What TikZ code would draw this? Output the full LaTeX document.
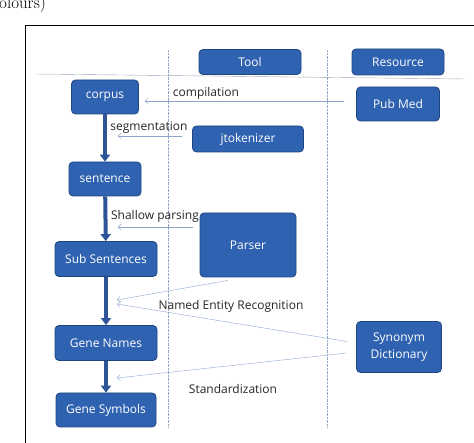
\documentclass[tikz,border=0pt]{standalone}
\usepackage{fontspec}
\setmainfont{Open Sans}
\newfontfamily\capfont{Latin Modern Roman}
\usetikzlibrary{arrows.meta}
\definecolor{boxblue}{RGB}{47,98,176}
\definecolor{boxedge}{RGB}{30,70,130}
\definecolor{flowblue}{RGB}{44,84,150}
\definecolor{feedblue}{RGB}{140,165,205}
\definecolor{rulegray}{RGB}{150,165,190}
\begin{document}
\begin{tikzpicture}[x=1pt,y=-1pt,
  box/.style={draw=boxedge,fill=boxblue,thick,rounded corners=4pt,text=white,
    font=\fontsize{12}{14}\selectfont,align=center,inner sep=0pt},
  flow/.style={flowblue,line width=4pt,-{Triangle[width=10pt,length=7pt]}},
  feed/.style={feedblue,thin,-{Straight Barb[length=3pt,width=6pt]}},
  lbl/.style={font=\fontsize{12}{14}\selectfont,inner sep=0pt,text=black!85}]

  \useasboundingbox (0,0) rectangle (474,443);
  \node[font=\capfont\fontsize{17}{20}\selectfont,anchor=base west,inner sep=0pt] (cap) at (-1,9) {olours)};
  \draw[thin] (25,25) rectangle (476,446);

  % lanes
  \draw[rulegray,thin] (35,74) -- (465,79);
  \draw[rulegray,thin,densely dotted] (168,50) -- (168,427);
  \draw[rulegray,thin,densely dotted] (327,50) -- (327,427);

  % headers
  \node[box,minimum width=102pt,minimum height=25pt] (tool) at (250,62) {Tool};
  \node[box,minimum width=92pt,minimum height=26pt] (resource) at (398,62) {Resource};

  % resources and tools
  \node[box,minimum width=83pt,minimum height=34pt] (pubmed) at (398,104) {Pub Med};
  \node[box,minimum width=111pt,minimum height=26pt] (jtok) at (248,139) {jtokenizer};
  \node[box,minimum width=96pt,minimum height=64pt] (parser) at (248,245) {Parser};
  \node[box,minimum width=85pt,minimum height=51pt] (synonym) at (399,347) {Synonym\\[3pt]Dictionary};

  % data
  \node[box,minimum width=67pt,minimum height=34pt] (corpus) at (105,97) {corpus};
  \node[box,minimum width=72pt,minimum height=34pt] (sentence) at (105,179) {sentence};
  \node[box,minimum width=102pt,minimum height=35pt] (subsent) at (106,259) {Sub Sentences};
  \node[box,minimum width=102pt,minimum height=35pt] (genenames) at (106,343) {Gene Names};
  \node[box,minimum width=100pt,minimum height=34pt] (genesym) at (106,410) {Gene Symbols};

  \draw[flow] (corpus) -- (sentence);
  \draw[flow] (sentence) -- (subsent);
  \draw[flow] (subsent) -- (genenames);
  \draw[flow] (genenames) -- (genesym);

  \coordinate (segpt) at (118,136);
  \coordinate (shalpt) at (118,227);
  \coordinate (nerpt) at (117,300);
  \coordinate (nerpt2) at (117,304);
  \coordinate (stdpt) at (117,378);

  \draw[feed,shorten <=12pt] ([yshift=3pt]pubmed.west) -- ([yshift=3pt,xshift=6pt]pubmed.west -| corpus.east);
  \draw[feed,shorten <=10pt] ([yshift=3pt]jtok.west) -- (segpt);
  \draw[feed,shorten <=7pt] ([yshift=18pt]parser.west) -- (shalpt);
  \draw[feed] ([xshift=-20pt,yshift=-3pt]parser.south) -- (nerpt);
  \draw[feed,shorten <=9pt] ([yshift=4pt]synonym.west) -- (nerpt2);
  \draw[feed,shorten <=10pt] ([yshift=-5pt]synonym.west) -- (stdpt);

  % labels
  \node[lbl] (compl) at (206,93) {compilation};
  \node[lbl] (segl) at (149,128) {segmentation};
  \node[lbl] (shall) at (155,216) {Shallow parsing};
  \node[lbl] (nerl) at (231,306) {Named Entity Recognition};
  \node[lbl] (stdl) at (233,389) {Standardization};
\end{tikzpicture}
\end{document}
